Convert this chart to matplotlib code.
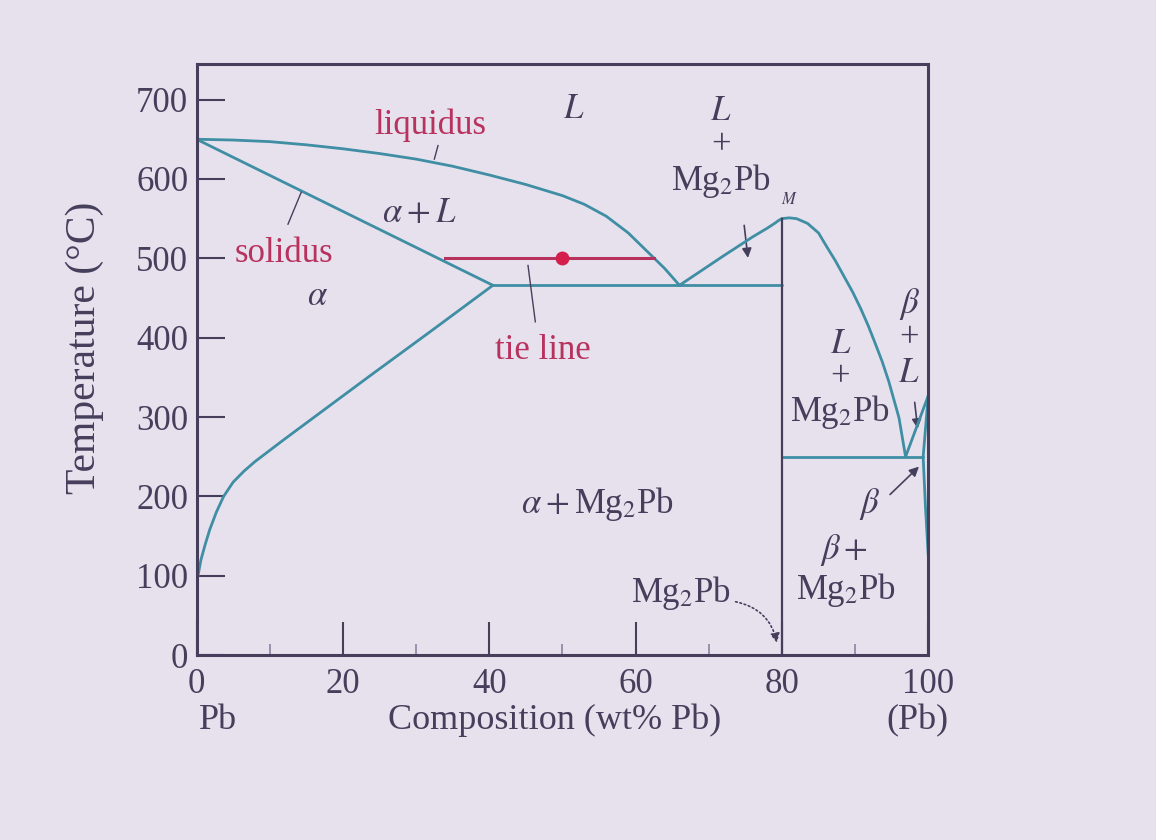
import matplotlib.pyplot as plt
from matplotlib.patches import FancyArrowPatch

plt.rcParams['font.family'] = ['Liberation Serif', 'DejaVu Serif']
plt.rcParams['mathtext.fontset'] = 'stix'

# phase boundaries (wt% Pb, deg C)
liq_x = [0, 5, 10, 15, 20, 25, 30, 35, 40, 45, 50, 53, 56, 59, 62, 64, 66]
liq_y = [650, 649, 647, 643, 638, 632, 625, 616, 605, 593, 579, 568, 553, 532, 505, 487, 466]
sol_x = [0, 40.5]
sol_y = [650, 466]
solvus_x = [0, 0.3, 0.6, 1.2, 1.8, 2.7, 3.7, 5, 6.5, 8, 10, 12, 18, 24, 32, 40.5]
solvus_y = [90, 105, 120, 140, 158, 180, 200, 218, 232, 244, 258, 272, 313, 354, 408, 466]
eut1_x = [40.5, 80]
eut1_y = [466, 466]
cmp_lx = [66, 72, 76, 78, 79, 79.6, 80]
cmp_ly = [466, 503, 527, 538, 544, 548, 550]
cmp_rx = [80, 81, 82, 83.5, 85, 86.1, 87.3, 88.5, 89.7, 90.8, 91.8, 92.7, 93.7, 94.6, 95.3, 96, 96.9]
cmp_ry = [550, 551, 550, 544, 532, 515, 497, 477, 457, 436, 415, 394, 370, 345, 322, 299, 250]
mg2pb_x = [80, 80]
mg2pb_y = [0, 550]
eut2_x = [80, 99.3]
eut2_y = [250, 250]
bliq_x = [96.9, 100]
bliq_y = [250, 327]
bsol_x = [99.3, 100]
bsol_y = [250, 327]
bsolv_x = [99.3, 99.6, 100]
bsolv_y = [250, 190, 125]
tie_x = [34, 62.5]
tie_y = [500, 500]
pt_x, pt_y = 50, 500

xticks = [0, 20, 40, 60, 80, 100]
yticks = [0, 100, 200, 300, 400, 500, 600, 700]

teal = '#3f8ea3'
red = '#b8325e'
ink = '#463f5c'
bg = '#e7e1ee'

fig = plt.figure(figsize=(11.56, 8.4), dpi=100, facecolor=bg)
ax = fig.add_axes([0.170, 0.22, 0.633, 0.704], facecolor=bg)

lw = 2.0
for xs, ys in [(liq_x, liq_y), (sol_x, sol_y), (solvus_x, solvus_y),
               (eut1_x, eut1_y), (cmp_lx, cmp_ly), (cmp_rx, cmp_ry),
               (eut2_x, eut2_y), (bliq_x, bliq_y), (bsol_x, bsol_y),
               (bsolv_x, bsolv_y)]:
    ax.plot(xs, ys, color=teal, lw=lw, solid_capstyle='round',
            solid_joinstyle='round')
ax.plot(mg2pb_x, mg2pb_y, color=ink, lw=1.6)
ax.plot(tie_x, tie_y, color=red, lw=2.2)
ax.plot(pt_x, pt_y, 'o', color='#d41f4c', ms=9)

ax.set_xlim(0, 100)
ax.set_ylim(0, 745)
ax.set_xticks(xticks)
ax.set_yticks(yticks)
ax.set_xticks([10, 30, 50, 70, 90], minor=True)
ax.tick_params(axis='y', direction='in', length=20, width=1.5, color=ink,
               labelsize=25, labelcolor=ink, pad=6)
ax.tick_params(axis='x', which='major', direction='in', length=24, width=1.5,
               color=ink, labelsize=25, labelcolor=ink, pad=9)
ax.tick_params(axis='x', which='minor', direction='in', length=8, width=1.2,
               color='#8a84a0')
for s in ax.spines.values():
    s.set_color(ink)
    s.set_linewidth(2.2)

ax.set_ylabel('Temperature (°C)', fontsize=30, color=ink)
ax.yaxis.set_label_coords(-0.126, 0.52)
ax.text(0.49, -0.11, 'Composition (wt% Pb)', transform=ax.transAxes,
        fontsize=26, color=ink, ha='center', va='center')
ax.text(0.03, -0.11, 'Pb', transform=ax.transAxes,
        fontsize=26, color=ink, ha='center', va='center')
ax.text(0.985, -0.11, '(Pb)', transform=ax.transAxes,
        fontsize=26, color=ink, ha='center', va='center')

fs = 25
mg = 'Mg$_2$Pb'
labels = [
    (51.5, 688, '$L$', ink),
    (32, 668, 'liquidus', red),
    (30.5, 557, r'$\alpha + L$', ink),
    (12, 506, 'solidus', red),
    (16.5, 452, r'$\alpha$', ink),
    (47.3, 384, 'tie line', red),
    (71.7, 685, '$L$', ink),
    (71.7, 642, '+', ink),
    (71.7, 597, mg, ink),
    (88, 392, '$L$', ink),
    (88, 350, '+', ink),
    (88, 306, mg, ink),
    (97.4, 443, r'$\beta$', ink),
    (97.4, 399, '+', ink),
    (97.4, 355, '$L$', ink),
    (92, 190, r'$\beta$', ink),
    (88.5, 132, r'$\beta +$', ink),
    (88.7, 82, mg, ink),
    (54.8, 190, r'$\alpha + $' + mg, ink),
    (66.2, 78, mg, ink),
]
for x, y, s, c in labels:
    ax.text(x, y, s, fontsize=fs, color=c, ha='center', va='center')
ax.text(81.0, 574, '$M$', fontsize=12, color=ink, ha='center', va='center')

# pointer lines
for (x1, y1), (x2, y2) in [((33, 642), (32.5, 625)),
                           ((12.5, 543), (14.3, 583)),
                           ((45.3, 491), (46.3, 420))]:
    ax.plot([x1, x2], [y1, y2], color=ink, lw=1.0)

for start, end, ls, rad in [((74.8, 545), (75.4, 497), '-', 0),
                            ((98.1, 322), (98.6, 282), '-', 0),
                            ((94.5, 200), (99, 240), '-', 0),
                            ((73.3, 68), (79.4, 12), ':', -0.35)]:
    ax.add_patch(FancyArrowPatch(start, end, arrowstyle='-|>', mutation_scale=14,
                                 color=ink, lw=1.2, linestyle=ls,
                                 connectionstyle='arc3,rad=%s' % rad))

fig.savefig('out.png', dpi=100, facecolor=bg)
